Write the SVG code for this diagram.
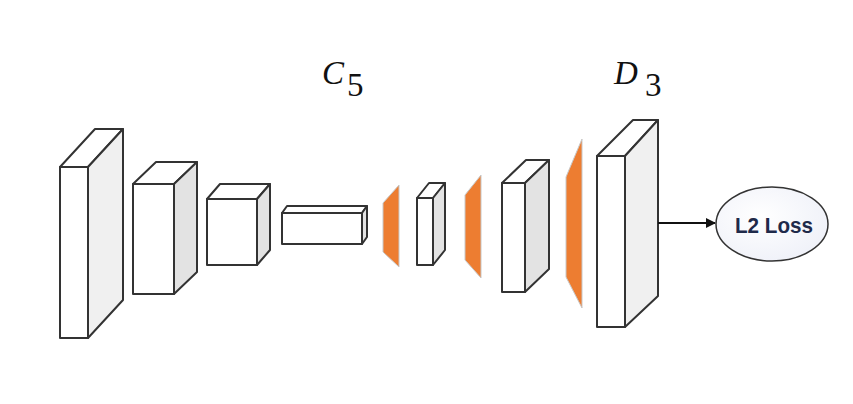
<svg xmlns="http://www.w3.org/2000/svg" width="853" height="404" viewBox="0 0 853 404">
<defs>
<style>
.f{fill:#fff;stroke:#333;stroke-width:2;stroke-linejoin:round}
.s{stroke:#333;stroke-width:2;stroke-linejoin:round}
.o{fill:#ED7D31;stroke:#c8c8c8;stroke-width:1}
.lbl{font-family:"Liberation Serif",serif;font-size:33px;fill:#111}
</style>
<marker id="ah" markerWidth="10" markerHeight="10" refX="9" refY="5" orient="auto" markerUnits="userSpaceOnUse">
<path d="M0,0 L10,5 L0,10 z" fill="#111"/>
</marker>
<radialGradient id="eg" cx="0.4" cy="0.4" r="0.7">
<stop offset="0" stop-color="#ffffff"/>
<stop offset="1" stop-color="#eef0f8"/>
</radialGradient>
</defs>
<rect width="853" height="404" fill="#fff"/>
<g id="box1">
<polygon class="f" points="60,167 95,129 123,129 88,167"/>
<polygon class="s" fill="#f0f0f0" points="88,167 123,129 123,300 88,338"/>
<rect class="f" x="60" y="167" width="28" height="171"/>
</g>
<g id="box2">
<polygon class="f" points="133,184 156,162 197,162 174,184"/>
<polygon class="s" fill="#e3e3e3" points="174,184 197,162 197,272 174,294"/>
<rect class="f" x="133" y="184" width="41" height="110"/>
</g>
<g id="box3">
<polygon class="f" points="207,199 220,184 270,184 257,199"/>
<polygon class="s" fill="#e3e3e3" points="257,199 270,184 270,250 257,265"/>
<rect class="f" x="207" y="199" width="50" height="66"/>
</g>
<g id="box4">
<polygon class="f" points="282,213 287,206 367,206 362,213"/>
<polygon class="s" fill="#e3e3e3" points="362,213 367,206 367,237 362,244"/>
<rect class="f" x="282" y="213" width="80" height="31"/>
</g>
<g id="orange1">
<polygon class="o" points="383,203 399,185 399,267 383,252"/>
</g>
<g id="box5">
<polygon class="f" points="417,198 429,183 445,183 433,198"/>
<polygon class="s" fill="#e3e3e3" points="433,198 445,183 445,250 433,265"/>
<rect class="f" x="417" y="198" width="16" height="67"/>
</g>
<g id="orange2">
<polygon class="o" points="465,195 481,175 481,278 465,260"/>
</g>
<g id="box6">
<polygon class="f" points="502,183 526,160 549,160 525,183"/>
<polygon class="s" fill="#e3e3e3" points="525,183 549,160 549,269 525,292"/>
<rect class="f" x="502" y="183" width="23" height="109"/>
</g>
<g id="orange3">
<polygon class="o" points="566,177 582,139 582,308 566,277"/>
</g>
<g id="box7">
<polygon class="f" points="597,156 633,120 658,120 625,156"/>
<polygon class="s" fill="#f0f0f0" points="625,156 658,120 658,296 625,327"/>
<rect class="f" x="597" y="156" width="28" height="171"/>
</g>
<g id="loss">
<ellipse cx="772" cy="224" rx="56" ry="37" fill="url(#eg)" stroke="#333" stroke-width="1.5"/>
<text x="774" y="233" text-anchor="middle" font-family="'Liberation Sans',Arial,sans-serif" font-weight="bold" font-size="22" fill="#1f2a4a" textLength="78" lengthAdjust="spacingAndGlyphs">L2 Loss</text>
</g>
<g id="connectors">
<line x1="658" y1="223" x2="715" y2="223" stroke="#111" stroke-width="2" marker-end="url(#ah)"/>
</g>
<g id="labels">
<text class="lbl" x="322" y="84" font-style="italic">C</text>
<text class="lbl" x="347" y="96">5</text>
<text class="lbl" x="614" y="84" font-style="italic">D</text>
<text class="lbl" x="645" y="96">3</text>
</g>
</svg>
